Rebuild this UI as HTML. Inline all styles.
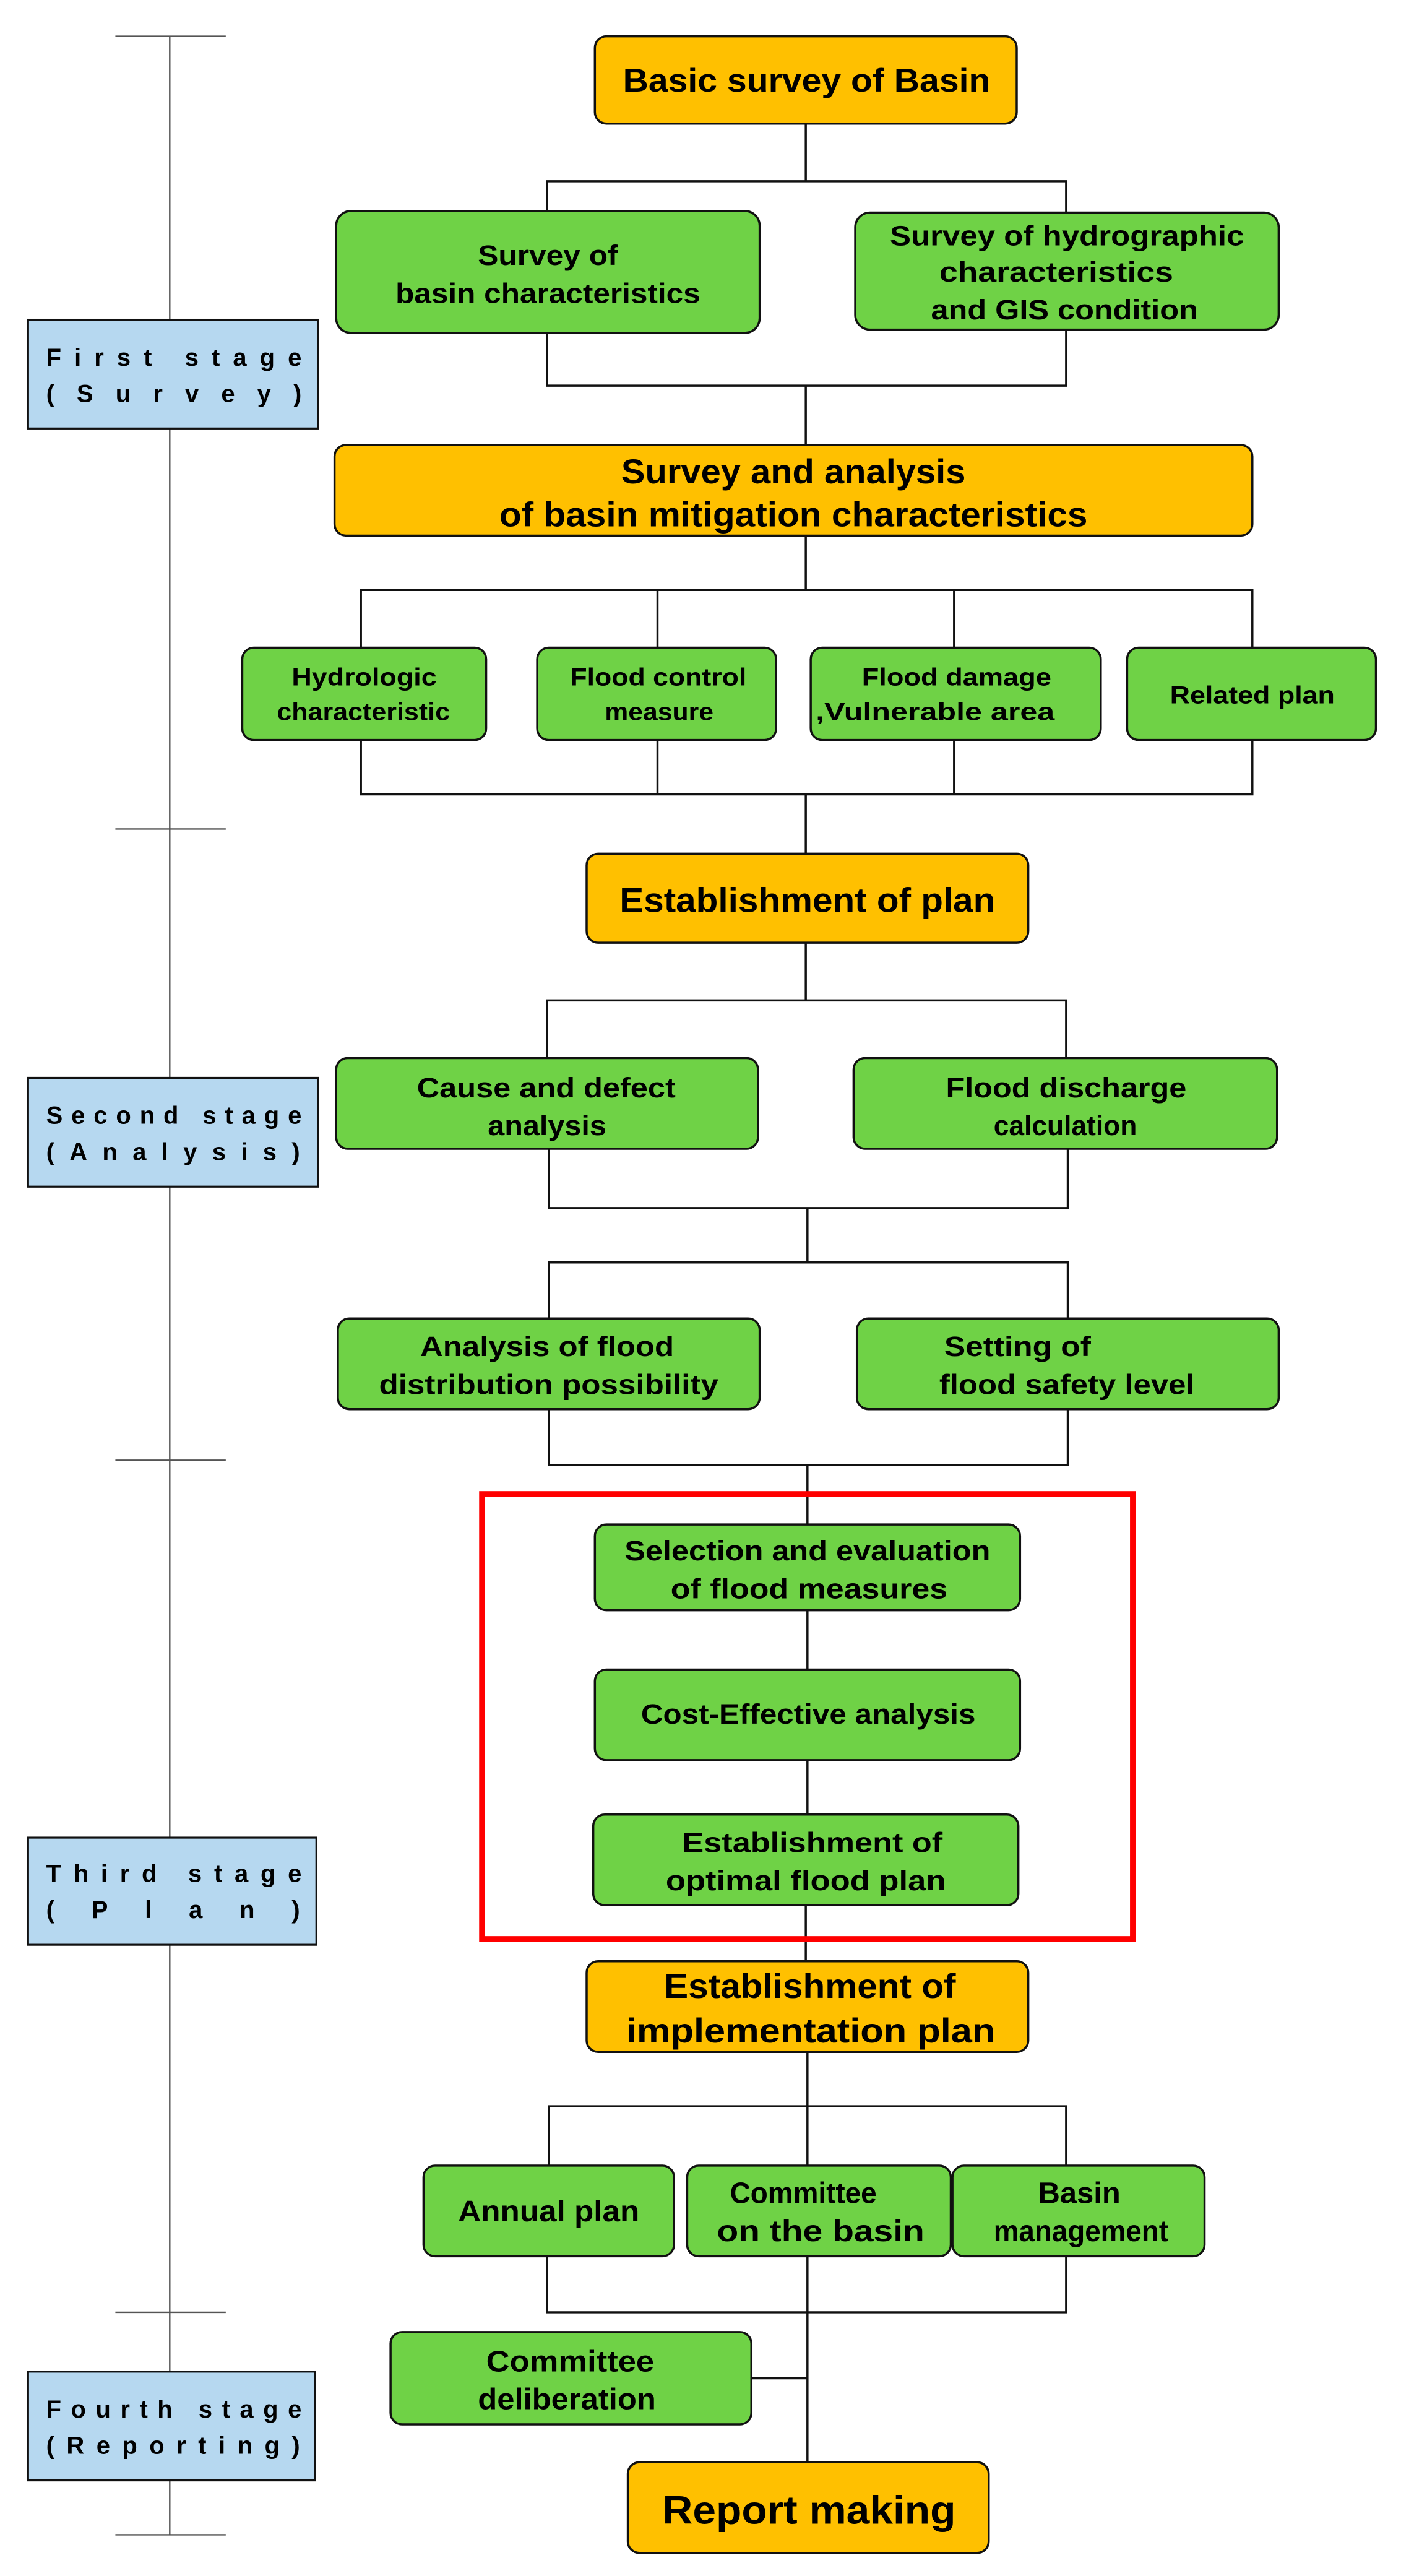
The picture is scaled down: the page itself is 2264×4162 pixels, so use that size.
<!DOCTYPE html>
<html><head><meta charset="utf-8"><style>
html,body{margin:0;padding:0;background:#fff;}
svg{display:block;}
text{font-family:"Liberation Sans",sans-serif;font-weight:bold;fill:#000;}
</style></head><body>
<svg width="2264" height="4162" viewBox="0 0 850.2 1563" xmlns="http://www.w3.org/2000/svg">
<!-- timeline -->
<g stroke="#555" stroke-width="0.9" fill="none">
<line x1="103" y1="22" x2="103" y2="1538"/>
<line x1="70" y1="22" x2="137" y2="22"/>
<line x1="70" y1="503" x2="137" y2="503"/>
<line x1="70" y1="886" x2="137" y2="886"/>
<line x1="70" y1="1403" x2="137" y2="1403"/>
<line x1="70" y1="1538" x2="137" y2="1538"/>
</g>
<g fill="#b6d8f0" stroke="#111" stroke-width="1.2">
<rect x="17" y="194" width="176" height="66"/>
<rect x="17" y="654" width="176" height="66"/>
<rect x="17" y="1115" width="175" height="65"/>
<rect x="17" y="1439" width="174" height="66"/>
</g>
<g font-size="15" dominant-baseline="central">
<text x="28" y="217" textLength="155" lengthAdjust="spacing">First stage</text>
<text x="28" y="239" textLength="155" lengthAdjust="spacing">(Survey)</text>
<text x="28" y="677" textLength="155" lengthAdjust="spacing">Second stage</text>
<text x="28" y="699" textLength="154" lengthAdjust="spacing">(Analysis)</text>
<text x="28" y="1137" textLength="155" lengthAdjust="spacing">Third stage</text>
<text x="28" y="1159" textLength="154" lengthAdjust="spacing">(Plan)</text>
<text x="28" y="1462" textLength="155" lengthAdjust="spacing">Fourth stage</text>
<text x="28" y="1484" textLength="154" lengthAdjust="spacing">(Reporting)</text>
</g>
<!-- connectors -->
<g stroke="#111" stroke-width="1.3" fill="none">
<path d="M489 75V110M332 128V110H647V129"/>
<path d="M332 202V234H647V200M489 234V270"/>
<path d="M489 325V358M219 393V358H760V393M399 358V393M579 358V393"/>
<path d="M219 449V482H760V449M399 449V482M579 449V482M489 482V518"/>
<path d="M489 572V607M332 642V607H647V642"/>
<path d="M333 697V733H648V697M490 733V766M333 800V766H648V800"/>
<path d="M333 855V889H648V855M490 889V925"/>
<path d="M490 977V1013M490 1068V1101M489 1156V1190"/>
<path d="M490 1245V1278M333 1314V1278H647V1314M490 1278V1314"/>
<path d="M332 1369V1403H647V1369M490 1369V1494M456 1443H490"/>
</g>
<rect x="292.5" y="906.5" width="395" height="270" fill="none" stroke="#ff0000" stroke-width="3.5"/>
<!-- boxes -->
<g stroke="#111" stroke-width="1.3">
<g fill="#ffc000">
<rect x="361" y="22" width="256" height="53" rx="7"/>
<rect x="203" y="270" width="557" height="55" rx="7"/>
<rect x="356" y="518" width="268" height="54" rx="7"/>
<rect x="356" y="1190" width="268" height="55" rx="7"/>
<rect x="381" y="1494" width="219" height="55" rx="7"/>
</g>
<g fill="#6fd246">
<rect x="204" y="128" width="257" height="74" rx="9"/>
<rect x="519" y="129" width="257" height="71" rx="9"/>
<rect x="147" y="393" width="148" height="56" rx="7"/>
<rect x="326" y="393" width="145" height="56" rx="7"/>
<rect x="492" y="393" width="176" height="56" rx="7"/>
<rect x="684" y="393" width="151" height="56" rx="7"/>
<rect x="204" y="642" width="256" height="55" rx="7"/>
<rect x="518" y="642" width="257" height="55" rx="7"/>
<rect x="205" y="800" width="256" height="55" rx="7"/>
<rect x="520" y="800" width="256" height="55" rx="7"/>
<rect x="361" y="925" width="258" height="52" rx="7"/>
<rect x="361" y="1013" width="258" height="55" rx="7"/>
<rect x="360" y="1101" width="258" height="55" rx="7"/>
<rect x="257" y="1314" width="152" height="55" rx="7"/>
<rect x="417" y="1314" width="160" height="55" rx="7"/>
<rect x="578" y="1314" width="153" height="55" rx="7"/>
<rect x="237" y="1415" width="219" height="56" rx="7"/>
</g>
</g>
<!-- labels -->
<g dominant-baseline="central" lengthAdjust="spacingAndGlyphs">
<text x="378" y="49" font-size="20" textLength="223" lengthAdjust="spacingAndGlyphs">Basic survey of Basin</text>
<text x="290" y="155" font-size="17" textLength="85" lengthAdjust="spacingAndGlyphs">Survey of</text>
<text x="240" y="178" font-size="17" textLength="185" lengthAdjust="spacingAndGlyphs">basin characteristics</text>
<text x="540" y="143" font-size="17" textLength="215" lengthAdjust="spacingAndGlyphs">Survey of hydrographic</text>
<text x="570" y="165" font-size="17" textLength="142" lengthAdjust="spacingAndGlyphs">characteristics</text>
<text x="565" y="188" font-size="17" textLength="162" lengthAdjust="spacingAndGlyphs">and GIS condition</text>
<text x="377" y="286" font-size="21" textLength="209" lengthAdjust="spacingAndGlyphs">Survey and analysis</text>
<text x="303" y="312" font-size="21" textLength="357" lengthAdjust="spacingAndGlyphs">of basin mitigation characteristics</text>
<text x="177" y="411" font-size="15" textLength="88" lengthAdjust="spacingAndGlyphs">Hydrologic</text>
<text x="168" y="432" font-size="15" textLength="105" lengthAdjust="spacingAndGlyphs">characteristic</text>
<text x="346" y="411" font-size="15" textLength="107" lengthAdjust="spacingAndGlyphs">Flood control</text>
<text x="367" y="432" font-size="15" textLength="66" lengthAdjust="spacingAndGlyphs">measure</text>
<text x="523" y="411" font-size="15" textLength="115" lengthAdjust="spacingAndGlyphs">Flood damage</text>
<text x="495" y="432" font-size="15" textLength="145" lengthAdjust="spacingAndGlyphs">,Vulnerable area</text>
<text x="710" y="422" font-size="15" textLength="100" lengthAdjust="spacingAndGlyphs">Related plan</text>
<text x="376" y="546" font-size="21" textLength="228" lengthAdjust="spacingAndGlyphs">Establishment of plan</text>
<text x="253" y="660" font-size="17" textLength="157" lengthAdjust="spacingAndGlyphs">Cause and defect</text>
<text x="296" y="683" font-size="17" textLength="72" lengthAdjust="spacingAndGlyphs">analysis</text>
<text x="574" y="660" font-size="17" textLength="146" lengthAdjust="spacingAndGlyphs">Flood discharge</text>
<text x="603" y="683" font-size="17" textLength="87" lengthAdjust="spacingAndGlyphs">calculation</text>
<text x="255" y="817" font-size="17" textLength="154" lengthAdjust="spacingAndGlyphs">Analysis of flood</text>
<text x="230" y="840" font-size="17" textLength="206" lengthAdjust="spacingAndGlyphs">distribution possibility</text>
<text x="573" y="817" font-size="17" textLength="89" lengthAdjust="spacingAndGlyphs">Setting of</text>
<text x="570" y="840" font-size="17" textLength="155" lengthAdjust="spacingAndGlyphs">flood safety level</text>
<text x="379" y="941" font-size="17" textLength="222" lengthAdjust="spacingAndGlyphs">Selection and evaluation</text>
<text x="407" y="964" font-size="17" textLength="168" lengthAdjust="spacingAndGlyphs">of flood measures</text>
<text x="389" y="1040" font-size="17" textLength="203" lengthAdjust="spacingAndGlyphs">Cost-Effective analysis</text>
<text x="414" y="1118" font-size="17" textLength="158" lengthAdjust="spacingAndGlyphs">Establishment of</text>
<text x="404" y="1141" font-size="17" textLength="170" lengthAdjust="spacingAndGlyphs">optimal flood plan</text>
<text x="403" y="1205" font-size="21" textLength="177" lengthAdjust="spacingAndGlyphs">Establishment of</text>
<text x="380" y="1232" font-size="21" textLength="224" lengthAdjust="spacingAndGlyphs">implementation plan</text>
<text x="278" y="1342" font-size="18" textLength="110" lengthAdjust="spacingAndGlyphs">Annual plan</text>
<text x="443" y="1331" font-size="18" textLength="89" lengthAdjust="spacingAndGlyphs">Committee</text>
<text x="435" y="1354" font-size="18" textLength="126" lengthAdjust="spacingAndGlyphs">on the basin</text>
<text x="630" y="1331" font-size="18" textLength="50" lengthAdjust="spacingAndGlyphs">Basin</text>
<text x="603" y="1354" font-size="18" textLength="106" lengthAdjust="spacingAndGlyphs">management</text>
<text x="295" y="1433" font-size="18" textLength="102" lengthAdjust="spacingAndGlyphs">Committee</text>
<text x="290" y="1456" font-size="18" textLength="108" lengthAdjust="spacingAndGlyphs">deliberation</text>
<text x="402" y="1523" font-size="24" textLength="178" lengthAdjust="spacingAndGlyphs">Report making</text>
</g>
</svg>
</body></html>
